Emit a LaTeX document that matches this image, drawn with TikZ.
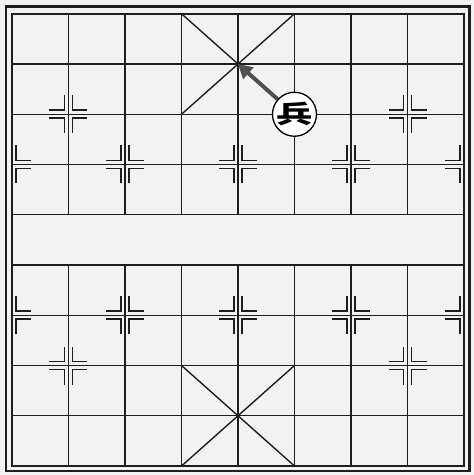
\documentclass[tikz,border=0pt]{standalone}
\usepackage{graphicx}
\usepackage{fontspec}
\newfontfamily\cjk{Noto Sans CJK SC}
\usetikzlibrary{arrows.meta}

\definecolor{boardbg}{HTML}{F2F2F2}
\definecolor{boardline}{HTML}{1E1E1E}
\definecolor{arrowgray}{HTML}{505050}

% corner marks round a point: #3 is a list of quadrants sx/sy
\newcommand{\posmark}[3]{%
  \foreach \sx/\sy in {#3}
    \draw[markline] ([shift={({\sx*4pt},{\sy*19pt})}]#1,#2) -- ++(0,{-\sy*15pt}) -- ++({\sx*15pt},0);%
}

\begin{document}
\begin{tikzpicture}[x=56.5pt, y=50.25pt,
    gridline/.style={boardline, line width=1.4pt},
    markline/.style={boardline, line width=1.6pt},
    piece/.style={circle, draw=black, line width=1.3pt, fill=white,
                  minimum size=44pt, inner sep=0pt},
    move/.style={arrowgray, line width=4pt, -{Triangle[length=14pt,width=15pt]}}]
    \useasboundingbox[fill=boardbg] (-12pt,-9pt) rectangle (462pt,466pt);
    % frames
    \draw[boardline, line width=2.4pt] (-6pt,-5pt) rectangle (457.5pt,459.5pt);
    \draw[boardline, line width=1.8pt] (0,0) rectangle (8,9);
    % horizontal lines
    \foreach \r in {1,...,8}
        \draw[gridline] (0,\r) -- (8,\r);
    % vertical lines, broken by the river
    \foreach \c in {1,...,7} {
        \draw[gridline] (\c,0) -- (\c,4);
        \draw[gridline] (\c,5) -- (\c,9);
    }
    % palaces
    \draw[gridline] (3,0) -- (5,2) (5,0) -- (3,2);
    \draw[gridline] (3,7) -- (5,9) (5,7) -- (3,9);
    % cannon and soldier points
    \foreach \c in {1,7} {
        \posmark{\c}{2}{1/1,-1/1,1/-1,-1/-1}
        \posmark{\c}{7}{1/1,-1/1,1/-1,-1/-1}
    }
    \foreach \c in {2,4,6} {
        \posmark{\c}{3}{1/1,-1/1,1/-1,-1/-1}
        \posmark{\c}{6}{1/1,-1/1,1/-1,-1/-1}
    }
    \posmark{0}{3}{1/1,1/-1}
    \posmark{0}{6}{1/1,1/-1}
    \posmark{8}{3}{-1/1,-1/-1}
    \posmark{8}{6}{-1/1,-1/-1}
    % the soldier and its move
    \node[piece] (bing) at (5,7)
        {\cjk\bfseries\fontsize{25pt}{25pt}\selectfont\scalebox{1.45}[1]{兵}};
    \coordinate (palace) at (4,8);
    \draw[move] (bing) -- (palace);
\end{tikzpicture}
\end{document}
